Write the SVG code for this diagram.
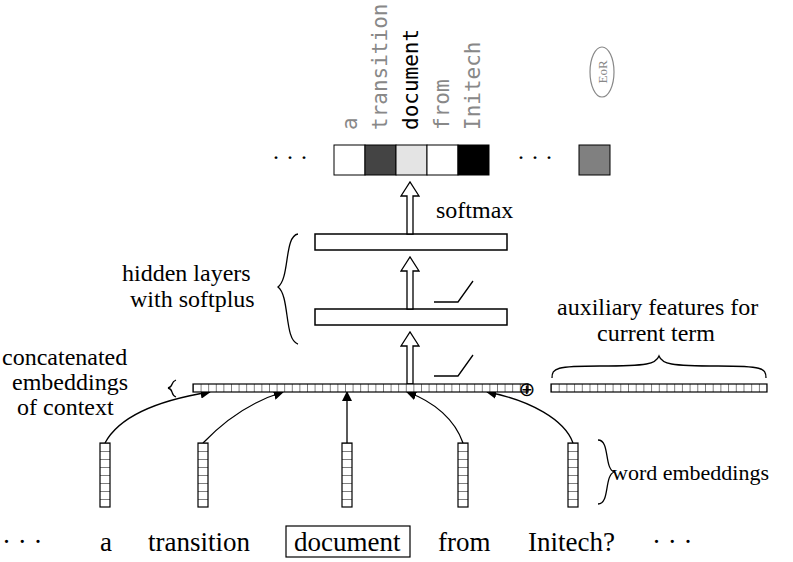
<svg xmlns="http://www.w3.org/2000/svg" width="793" height="562" viewBox="0 0 793 562">
<style>
.t{font-family:"Liberation Serif",serif;font-size:24px;fill:#000}
.w{font-family:"Liberation Serif",serif;font-size:27px;fill:#000}
.m{font-family:"DejaVu Sans Mono","Liberation Mono",monospace;font-size:21px;fill:#888}
.b{fill:#fff;stroke:#000;stroke-width:1.5}
.ln{fill:none;stroke:#000;stroke-width:1.3}
</style>
<defs>
<pattern id="hc" x="193" y="0" width="7.6" height="10" patternUnits="userSpaceOnUse"><rect width="7.6" height="10" fill="#fff"/><line x1="0" y1="0" x2="0" y2="10" stroke="#000" stroke-width="1"/></pattern>
<pattern id="hc2" x="551" y="0" width="7.7" height="10" patternUnits="userSpaceOnUse"><rect width="7.7" height="10" fill="#fff"/><line x1="0" y1="0" x2="0" y2="10" stroke="#000" stroke-width="1"/></pattern>
<pattern id="vc" x="0" y="443" width="10" height="8" patternUnits="userSpaceOnUse"><rect width="10" height="8" fill="#fff"/><line x1="0" y1="0" x2="10" y2="0" stroke="#000" stroke-width="1"/></pattern>
<marker id="ah" viewBox="0 0 10 10" refX="9" refY="5" markerWidth="8" markerHeight="8" orient="auto"><path d="M0,0 L10,5 L0,10 z" fill="#000"/></marker>
<path id="da" d="M-3,0 V-38 H-9 L0,-52 L9,-38 H3 V0 Z" fill="#fff" stroke="#000" stroke-width="1.3"/>
</defs>
<g id="output-labels">
<text class="m" transform="translate(357,130) rotate(-90)">a</text>
<text class="m" transform="translate(387,130) rotate(-90)">transition</text>
<text class="m" style="fill:#000" transform="translate(418,130) rotate(-90)">document</text>
<text class="m" transform="translate(449,130) rotate(-90)">from</text>
<text class="m" transform="translate(480,130) rotate(-90)">Initech</text>
<ellipse cx="602" cy="72" rx="12" ry="25" fill="#fff" stroke="#888" stroke-width="1.2"/>
<text transform="translate(607,72) rotate(-90)" text-anchor="middle" style="font-family:'Liberation Serif',serif;font-size:13px;fill:#888">EoR</text>
</g>
<g id="output-layer">
<text class="t" x="272" y="165">· · ·</text>
<rect x="334" y="145" width="31" height="30" fill="#fff" stroke="#000"/>
<rect x="365" y="145" width="31" height="30" fill="#444" stroke="#000"/>
<rect x="396" y="145" width="31" height="30" fill="#e4e4e4" stroke="#000"/>
<rect x="427" y="145" width="31" height="30" fill="#fff" stroke="#000"/>
<rect x="458" y="145" width="31" height="30" fill="#000" stroke="#000"/>
<text class="t" x="517" y="165">· · ·</text>
<rect x="579" y="145" width="31" height="30" fill="#808080" stroke="#000"/>
<text class="t" x="436" y="218">softmax</text>
</g>
<g id="hidden-layers">
<rect class="b" x="315" y="234" width="192" height="16"/>
<rect class="b" x="315" y="309" width="192" height="16"/>
<path class="ln" d="M434,302 H458 L473,281"/>
<path class="ln" d="M434,376 H458 L473,355"/>
<text class="t" x="122" y="281">hidden layers</text>
<text class="t" x="130" y="307">with softplus</text>
<path class="ln" d="M298,234 C284,236 290,278 278,287 C290,296 284,340 298,344"/>
</g>
<g id="connectors">
<use href="#da" x="410" y="384"/>
<use href="#da" x="410" y="309"/>
<use href="#da" x="410" y="234"/>
<path class="ln" marker-end="url(#ah)" d="M105,443 C120,415 160,400 210,392"/>
<path class="ln" marker-end="url(#ah)" d="M203,443 C225,420 250,402 283,392"/>
<path class="ln" marker-end="url(#ah)" d="M347,443 V392"/>
<path class="ln" marker-end="url(#ah)" d="M463,443 C455,420 435,402 407,392"/>
<path class="ln" marker-end="url(#ah)" d="M573,443 C565,420 530,400 487,392"/>
</g>
<g id="concat">
<rect x="193" y="384" width="335" height="8" fill="url(#hc)" stroke="#000" stroke-width="1.2"/>
<text class="t" x="2" y="365">concatenated</text>
<text class="t" x="12" y="390">embeddings</text>
<text class="t" x="17" y="415">of context</text>
<path class="ln" d="M176,380 C170,382 174,387 168,388 C174,389 170,395 176,397"/>
</g>
<g id="aux">
<text x="527" y="396" text-anchor="middle" style="font-family:'DejaVu Sans',sans-serif;font-size:20px">⊕</text>
<text class="t" x="557" y="315">auxiliary features for</text>
<text class="t" x="597" y="341">current term</text>
<path class="ln" d="M552,378 C552,368 556,366 600,366 C648,366 656,364 659,356 C662,364 670,366 718,366 C762,366 766,368 766,378"/>
<rect x="551" y="384" width="216" height="8" fill="url(#hc2)" stroke="#000" stroke-width="1.2"/>
</g>
<g id="word-embeddings">
<rect x="100" y="443" width="10" height="64" fill="url(#vc)" stroke="#000" stroke-width="1.2"/>
<rect x="198" y="443" width="10" height="64" fill="url(#vc)" stroke="#000" stroke-width="1.2"/>
<rect x="342" y="443" width="10" height="64" fill="url(#vc)" stroke="#000" stroke-width="1.2"/>
<rect x="458" y="443" width="10" height="64" fill="url(#vc)" stroke="#000" stroke-width="1.2"/>
<rect x="568" y="443" width="10" height="64" fill="url(#vc)" stroke="#000" stroke-width="1.2"/>
<path class="ln" d="M598,440 C610,440 604,468 614,472 C604,476 610,504 598,504"/>
<text class="t" x="612" y="480" style="font-size:22px">word embeddings</text>
</g>
<g id="words">
<text class="w" x="2" y="551">· · ·</text>
<text class="w" x="100" y="551">a</text>
<text class="w" x="148" y="551">transition</text>
<rect x="286" y="526" width="124" height="31" fill="none" stroke="#000" stroke-width="1.2"/>
<text class="w" x="294" y="551">document</text>
<text class="w" x="438" y="551">from</text>
<text class="w" x="528" y="551">Initech?</text>
<text class="w" x="652" y="551">· · ·</text>
</g>
</svg>
